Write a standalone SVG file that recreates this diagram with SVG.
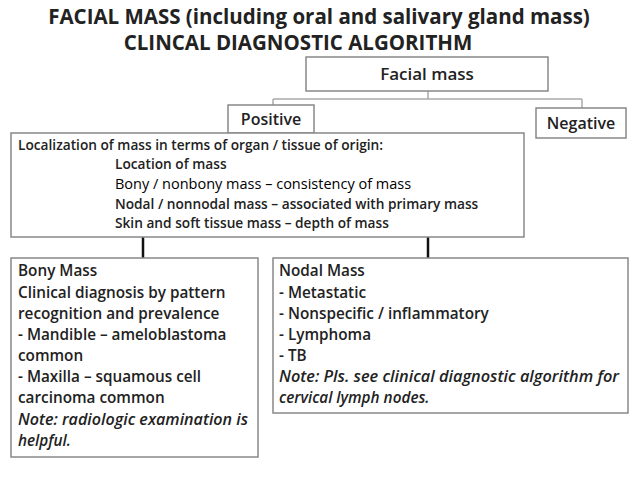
<svg xmlns="http://www.w3.org/2000/svg" width="638" height="478" viewBox="0 0 638 478">
<style>
.b{fill:#fff;stroke:#888;stroke-width:1.5}
.t{font-family:"Open Sans","Liberation Sans",sans-serif;font-weight:600;fill:#222;font-size:15.3px}
.i{font-style:italic}
.h{font-family:"Open Sans","Liberation Sans",sans-serif;font-weight:700;fill:#222;font-size:20.5px}
</style>
<rect width="638" height="478" fill="#fff"/>
<text class="h" x="319" y="24" text-anchor="middle">FACIAL MASS (including oral and salivary gland mass)</text>
<text class="h" x="298" y="50" text-anchor="middle">CLINCAL DIAGNOSTIC ALGORITHM</text>
<g id="connectors" fill="none">
<path d="M428 91V99M273 99H582M273 99V105M582 99V108" stroke="#aaa" stroke-width="1.5"/>
<path d="M143 237V258M428 237V258" stroke="#111" stroke-width="2.5"/>
</g>
<g id="facial"><rect class="b" x="306" y="57" width="242" height="34"/><text class="t" x="427" y="80" text-anchor="middle" style="font-size:17px">Facial mass</text></g>
<g id="positive"><rect class="b" x="228" y="105" width="86" height="28"/><text class="t" x="271" y="125" text-anchor="middle" style="font-size:16px">Positive</text></g>
<g id="negative"><rect class="b" x="536" y="108" width="90" height="30"/><text class="t" x="581" y="129" text-anchor="middle" style="font-size:16px">Negative</text></g>
<g id="localization"><rect class="b" x="11" y="133" width="513" height="104"/>
<text class="t" style="font-size:13.7px"><tspan x="18" y="150">Localization of mass in terms of organ / tissue of origin:</tspan><tspan x="115" y="169">Location of mass</tspan><tspan x="115" y="189" style="font-weight:400;fill:#000;font-size:14.5px">Bony / nonbony mass – consistency of mass</tspan><tspan x="115" y="209">Nodal / nonnodal mass – associated with primary mass</tspan><tspan x="115" y="228">Skin and soft tissue mass – depth of mass</tspan></text></g>
<g id="bony"><rect class="b" x="11" y="258" width="247" height="199"/>
<text class="t"><tspan x="18" y="276">Bony Mass</tspan><tspan x="18" y="298">Clinical diagnosis by pattern</tspan><tspan x="18" y="319">recognition and prevalence</tspan><tspan x="18" y="340">- Mandible – ameloblastoma</tspan><tspan x="18" y="361">common</tspan><tspan x="18" y="382">- Maxilla – squamous cell</tspan><tspan x="18" y="403">carcinoma common</tspan><tspan class="i" x="18" y="425" textLength="230" lengthAdjust="spacingAndGlyphs">Note: radiologic examination is</tspan><tspan class="i" x="18" y="446">helpful.</tspan></text></g>
<g id="nodal"><rect class="b" x="273" y="258" width="355" height="155"/>
<text class="t"><tspan x="279" y="276">Nodal Mass</tspan><tspan x="279" y="298">- Metastatic</tspan><tspan x="279" y="319">- Nonspecific / inflammatory</tspan><tspan x="279" y="340">- Lymphoma</tspan><tspan x="279" y="361">- TB</tspan><tspan class="i" x="279" y="382" textLength="340" lengthAdjust="spacingAndGlyphs">Note: Pls. see clinical diagnostic algorithm for</tspan><tspan class="i" x="279" y="403">cervical lymph nodes.</tspan></text></g>
</svg>
